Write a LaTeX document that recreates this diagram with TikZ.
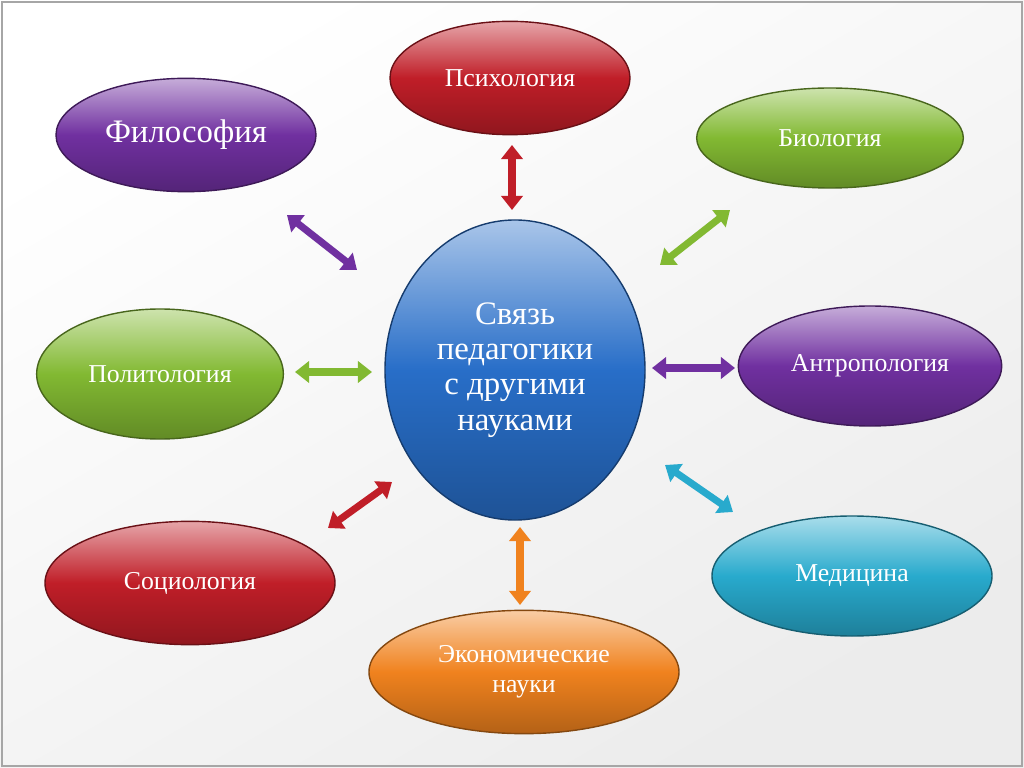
\documentclass[tikz,border=0pt]{standalone}
\usepackage{fontspec}
\setmainfont{Liberation Serif}
\usetikzlibrary{arrows.meta,shapes.geometric}
\begin{document}
\begin{tikzpicture}[x=0.03cm,y=-0.03cm,
 el/.style={ellipse,draw=#1!55!black,line width=1.2pt,top color=#1!40!white,bottom color=#1!75!black,middle color=#1,inner sep=0pt,align=center,text=white,font=\fontsize{22}{26}\selectfont},
 dbl/.style={draw=#1,line width=6pt,{Triangle[length=12pt,width=18pt]}-{Triangle[length=12pt,width=18pt]}}]
\useasboundingbox (0,0) rectangle (1024,768);
\shade[top color=white,bottom color=gray!15,shading angle=30] (0,0) rectangle (1024,768);
\draw[gray!70,line width=1pt] (2,2) rectangle (1022,766);
\definecolor{cpur}{RGB}{112,48,160}
\definecolor{cred}{RGB}{192,30,40}
\definecolor{cgrn}{RGB}{130,185,50}
\definecolor{ctea}{RGB}{40,170,205}
\definecolor{corg}{RGB}{240,130,30}
\definecolor{cblu}{RGB}{40,110,200}
\node[el=cpur,minimum width=7.8cm,minimum height=3.4cm,font=\fontsize{28}{32}\selectfont] (fil) at (186,135) {Философия};
\node[el=cred,minimum width=7.2cm,minimum height=3.4cm] (psy) at (510,78) {Психология};
\node[el=cgrn,minimum width=8cm,minimum height=3cm] (bio) at (830,138) {Биология};
\node[el=cgrn,minimum width=7.4cm,minimum height=3.9cm] (pol) at (160,374) {Политология};
\node[el=cpur,minimum width=7.9cm,minimum height=3.6cm] (ant) at (870,366) {Антропология};
\node[el=cred,minimum width=8.7cm,minimum height=3.7cm] (soc) at (190,583) {Социология};
\node[el=ctea,minimum width=8.4cm,minimum height=3.6cm] (med) at (852,576) {Медицина};
\node[el=corg,minimum width=9.3cm,minimum height=3.7cm] (eco) at (524,672) {Экономические\\науки};
\node[el=cblu,minimum width=7.8cm,minimum height=9cm,font=\fontsize{28}{30}\selectfont] (c) at (515,370) {Связь\\педагогики\\с другими\\науками};
\coordinate (a1) at (287,215); \coordinate (b1) at (357,270);
\coordinate (a2) at (512,145); \coordinate (b2) at (512,210);
\coordinate (a3) at (730,210); \coordinate (b3) at (660,265);
\coordinate (a4) at (295,372); \coordinate (b4) at (372,372);
\coordinate (a5) at (735,368); \coordinate (b5) at (652,368);
\coordinate (a6) at (733,512); \coordinate (b6) at (665,465);
\coordinate (a7) at (328,528); \coordinate (b7) at (392,482);
\coordinate (a8) at (520,605); \coordinate (b8) at (520,527);
\draw[dbl=cpur] (a1) -- (b1);
\draw[dbl=cred] (a2) -- (b2);
\draw[dbl=cgrn] (a3) -- (b3);
\draw[dbl=cgrn] (a4) -- (b4);
\draw[dbl=cpur] (a5) -- (b5);
\draw[dbl=ctea] (a6) -- (b6);
\draw[dbl=cred] (a7) -- (b7);
\draw[dbl=corg] (a8) -- (b8);
\end{tikzpicture}
\end{document}
